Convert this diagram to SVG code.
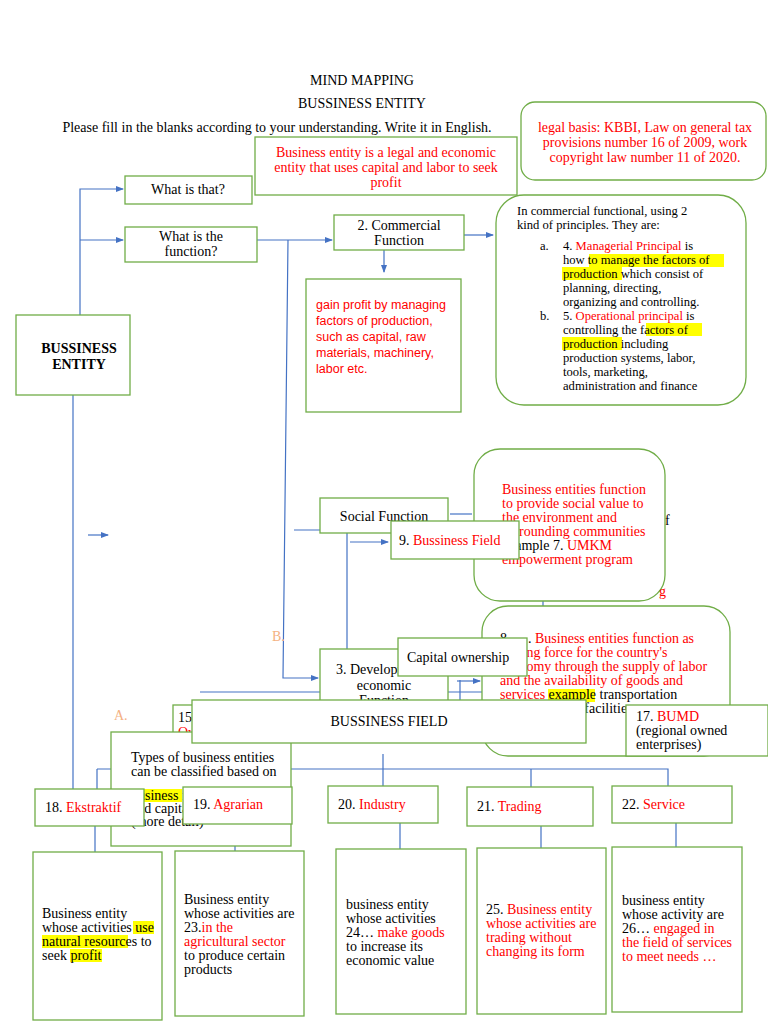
<svg xmlns="http://www.w3.org/2000/svg" width="768" height="1024" viewBox="0 0 768 1024">
<style>
text{font-family:"Liberation Serif",serif;font-size:14px;fill:#000}
.r{fill:#ff0000}
.s{font-size:12.6px}
.g{font-family:"Liberation Sans",Arial,sans-serif;font-size:12.5px;fill:#ff0000}
.b{fill:#fff;stroke:#70ad47;stroke-width:1.3}
.c{fill:none;stroke:#4472c4;stroke-width:1.2}
.h{fill:#ffff00}
</style>
<defs><marker id="a" markerWidth="8" markerHeight="8" refX="7" refY="4" orient="auto" markerUnits="userSpaceOnUse"><path d="M0,1 L8,4 L0,7z" fill="#4472c4"/></marker></defs>
<rect width="768" height="1024" fill="#fff"/>
<text x="362" y="85" text-anchor="middle" font-size="15">MIND MAPPING</text>
<text x="362" y="108" text-anchor="middle" font-size="15">BUSSINESS ENTITY</text>
<text x="277" y="132" text-anchor="middle" font-size="16">Please fill in the blanks according to your understanding. Write it in English.</text>
<g id="connectors" class="c">
<path d="M80,315 V189 H123" marker-end="url(#a)"/>
<path d="M80,240 H123" marker-end="url(#a)"/>
<path d="M73,395 V789"/>
<path d="M88,535 H108" marker-end="url(#a)"/>
<path d="M257,240 H332" marker-end="url(#a)"/>
<path d="M288,240 L283,678 H318" marker-end="url(#a)"/>
<path d="M384,250 V272" marker-end="url(#a)"/>
<path d="M464,235 H493" marker-end="url(#a)"/>
<path d="M294,530 H347 V663 H396" marker-end="url(#a)"/>
<path d="M350,542 H388" marker-end="url(#a)"/>
<path d="M450,514 H472"/>
<path d="M543,520 V626"/>
<path d="M543,520 H580 M543,547 H580 M543,571 H580 M543,591 H580 M543,616 H580" marker-end="url(#a)"/>
<path d="M457,681 H480" marker-end="url(#a)"/>
<path d="M460,680 V700"/>
<path d="M200,692 H697 V705"/>
<path d="M97,769 H668 V786"/>
<path d="M97,769 V789 M383,754 V786 M531,769 V787"/>
<path d="M95,826 V852 M235,824 V851 M400,823 V849 M541,826 V848 M676,823 V847"/>
</g>
<g id="entity"><rect class="b" x="16" y="315" width="114" height="80"/><text x="79" y="353" text-anchor="middle" font-weight="bold" font-size="15">BUSSINESS</text><text x="79" y="369" text-anchor="middle" font-weight="bold" font-size="15">ENTITY</text></g>
<g id="what"><rect class="b" x="125" y="176" width="127" height="28"/><text x="188" y="194" text-anchor="middle">What is that?</text></g>
<g id="func"><rect class="b" x="125" y="227" width="132" height="35"/><text x="191" y="241" text-anchor="middle">What is the</text><text x="191" y="256" text-anchor="middle">function?</text></g>
<g id="def"><rect class="b" x="255" y="137" width="262" height="58"/><text x="386" y="157" text-anchor="middle" class="r">Business entity is a legal and economic</text><text x="386" y="172" text-anchor="middle" class="r">entity that uses capital and labor to seek</text><text x="386" y="187" text-anchor="middle" class="r">profit</text></g>
<g id="legal"><rect class="b" x="521" y="102" width="245" height="78" rx="14"/><text x="645" y="132" text-anchor="middle" class="r">legal basis: KBBI, Law on general tax</text><text x="645" y="147" text-anchor="middle" class="r">provisions number 16 of 2009, work</text><text x="645" y="162" text-anchor="middle" class="r">copyright law number 11 of 2020.</text></g>
<g id="commercial"><rect class="b" x="334" y="215" width="130" height="35"/><text x="399" y="230" text-anchor="middle">2. Commercial</text><text x="399" y="245" text-anchor="middle">Function</text></g>
<g id="gain"><rect class="b" x="306" y="279" width="155" height="133"/><text x="316" y="309" class="g">gain profit by managing</text><text x="316" y="325" class="g">factors of production,</text><text x="316" y="341" class="g">such as capital, raw</text><text x="316" y="357" class="g">materials, machinery,</text><text x="316" y="373" class="g">labor etc.</text></g>
<g id="principles"><rect class="b" x="496" y="195" width="250" height="210" rx="28"/>
<text x="517" y="215" class="s">In commercial functional, using 2</text><text x="517" y="229" class="s">kind of principles. They are:</text>
<rect class="h" x="589" y="254" width="135" height="13"/><rect class="h" x="562" y="267" width="60" height="13"/>
<text x="540" y="250" class="s">a.</text><text x="563" y="250" class="s">4. <tspan class="r">Managerial Principal</tspan> is</text>
<text x="563" y="264" class="s">how to manage the factors of</text><text x="563" y="278" class="s">production which consist of</text><text x="563" y="292" class="s">planning, directing,</text><text x="563" y="306" class="s">organizing and controlling.</text>
<rect class="h" x="646" y="323" width="56" height="13"/><rect class="h" x="562" y="337" width="60" height="13"/>
<text x="540" y="320" class="s">b.</text><text x="563" y="320" class="s">5. <tspan class="r">Operational principal</tspan> is</text>
<text x="563" y="334" class="s">controlling the factors of</text><text x="563" y="348" class="s">production including</text><text x="563" y="362" class="s">production systems, labor,</text><text x="563" y="376" class="s">tools, marketing,</text><text x="563" y="390" class="s">administration and finance</text></g>
<g id="social"><rect class="b" x="320" y="498" width="128" height="35"/><text x="384" y="521" text-anchor="middle" font-size="15">Social Function</text></g>
<g id="socialDesc"><rect class="b" x="474" y="449" width="191" height="152" rx="26"/><text x="502" y="494" class="r">Business entities function</text><text x="502" y="508" class="r">to provide social value to</text><text x="502" y="522" class="r">the environment and</text><text x="502" y="536" class="r">surrounding communities</text><text x="502" y="550">example 7. <tspan class="r">UMKM</tspan></text><text x="502" y="564" class="r">empowerment program</text><text x="665" y="525">f</text><text x="659" y="596" class="r">g</text></g>
<g id="econDesc"><rect class="b" x="482" y="606" width="248" height="150" rx="26"/><text x="500" y="643">8. …. <tspan class="r">Business entities function as</tspan></text><text x="500" y="657" class="r">driving force for the country's</text><text x="500" y="671" class="r">economy through the supply of labor</text><text x="500" y="685" class="r">and the availability of goods and</text><rect class="h" x="548" y="689" width="47" height="13"/><text x="500" y="699"><tspan class="r">services</tspan> example transportation</text><text x="500" y="713">facilities, state facilities,</text><text x="500" y="727">health services</text></g>
<g id="bfield9"><rect class="b" x="391" y="521" width="128" height="38"/><text x="399" y="545">9. <tspan class="r">Bussiness Field</tspan></text></g>
<text x="272" y="641" font-size="13" style="fill:#f4b183">B.</text>
<g id="develop"><rect class="b" x="320" y="649" width="128" height="60"/><text x="336" y="674" font-size="15">3. Development</text><text x="384" y="690" text-anchor="middle" font-size="15">economic</text><text x="384" y="705" text-anchor="middle" font-size="15">Function</text></g>
<g id="capital"><rect class="b" x="398" y="638" width="129" height="38"/><text x="407" y="662">Capital ownership</text></g>
<text x="114" y="720" style="fill:#f4b183" font-size="17">A.</text>
<g id="own15"><rect class="b" x="173" y="705" width="60" height="40"/><text x="178" y="722">15.</text><text x="178" y="737" class="r">Ownership</text></g>
<g id="types"><rect class="b" x="111" y="732" width="180" height="114"/><text x="131" y="762">Types of business entities</text><text x="131" y="776">can be classified based on</text><rect class="h" x="135" y="789" width="47" height="13"/><text x="131" y="800">business field</text><text x="131" y="813">and capital</text><text x="131" y="826">(more detail)</text></g>
<g id="bfield"><rect class="b" x="192" y="700" width="394" height="43"/><text x="389" y="726" text-anchor="middle">BUSSINESS FIELD</text></g>
<g id="bumd"><rect class="b" x="626" y="705" width="142" height="51"/><text x="636" y="721">17. <tspan class="r">BUMD</tspan></text><text x="636" y="735">(regional owned</text><text x="636" y="749">enterprises)</text></g>
<g id="n18"><rect class="b" x="35" y="789" width="109" height="37"/><text x="45" y="812">18. <tspan class="r">Ekstraktif</tspan></text></g>
<g id="n19"><rect class="b" x="183" y="787" width="109" height="37"/><text x="193" y="809">19. <tspan class="r">Agrarian</tspan></text></g>
<g id="n20"><rect class="b" x="328" y="786" width="110" height="37"/><text x="338" y="809">20. <tspan class="r">Industry</tspan></text></g>
<g id="n21"><rect class="b" x="467" y="787" width="126" height="39"/><text x="477" y="811">21. <tspan class="r">Trading</tspan></text></g>
<g id="n22"><rect class="b" x="612" y="786" width="120" height="37"/><text x="622" y="809">22. <tspan class="r">Service</tspan></text></g>
<g id="d18"><rect class="b" x="33" y="852" width="129" height="168"/><rect class="h" x="133" y="921" width="21" height="13"/><rect class="h" x="42" y="935" width="86" height="13"/><rect class="h" x="70" y="949" width="32" height="13"/><text x="42" y="918">Business entity</text><text x="42" y="932">whose activities use</text><text x="42" y="946">natural resources to</text><text x="42" y="960">seek profit</text></g>
<g id="d19"><rect class="b" x="175" y="851" width="129" height="165"/><text x="184" y="904">Business entity</text><text x="184" y="918">whose activities are</text><text x="184" y="932">23.<tspan class="r">in the</tspan></text><text x="184" y="946" class="r">agricultural sector</text><text x="184" y="960">to produce certain</text><text x="184" y="974">products</text></g>
<g id="d20"><rect class="b" x="336" y="849" width="130" height="165"/><text x="346" y="909">business entity</text><text x="346" y="923">whose activities</text><text x="346" y="937">24… <tspan class="r">make goods</tspan></text><text x="346" y="951">to increase its</text><text x="346" y="965">economic value</text></g>
<g id="d21"><rect class="b" x="477" y="848" width="129" height="166"/><text x="486" y="914">25. <tspan class="r">Business entity</tspan></text><text x="486" y="928" class="r">whose activities are</text><text x="486" y="942" class="r">trading without</text><text x="486" y="956" class="r">changing its form</text></g>
<g id="d22"><rect class="b" x="612" y="847" width="130" height="165"/><text x="622" y="905">business entity</text><text x="622" y="919">whose activity are</text><text x="622" y="933">26… <tspan class="r">engaged in</tspan></text><text x="622" y="947" class="r">the field of services</text><text x="622" y="961" class="r">to meet needs …</text></g>
</svg>
